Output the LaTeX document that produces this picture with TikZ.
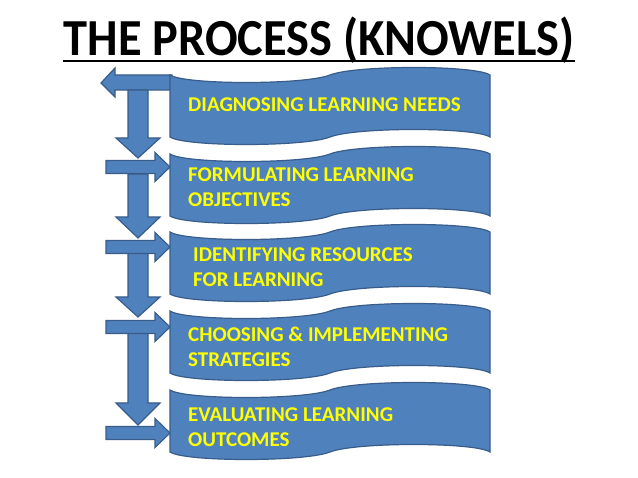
\documentclass[tikz,border=0pt]{standalone}
\usepackage{fontspec}
\setmainfont{Carlito}
\newfontfamily\headingfont[FakeStretch=0.93]{Carlito}
\definecolor{slideblue}{HTML}{4F81BD}
\definecolor{slideedge}{HTML}{385D8A}
\definecolor{slideyellow}{HTML}{FFFF00}

\begin{document}
\begin{tikzpicture}[
    x=1pt, y=-1pt,
    heading/.style={anchor=base, inner sep=0pt, font=\headingfont\fontsize{52}{60}\selectfont\bfseries},
    stage/.style={anchor=base west, inner sep=0pt, align=left, text=slideyellow, font=\fontsize{21}{25}\selectfont\bfseries},
    blockarrow/.style={fill=slideblue, draw=slideedge, line width=1.2pt, line join=miter},
    wave/.style={fill=slideblue, draw=slideedge, line width=1.2pt},
    wavebox/.pic={
        \draw[wave] (0,0) .. controls (15,10) and (135,10) .. (160,0)
            .. controls (185,-10) and (305,-10) .. (320,0) -- (320,62)
            .. controls (305,52) and (185,52) .. (160,62)
            .. controls (135,72) and (15,72) .. (0,62) -- cycle;
    }
]

\fill[white] (0,0) rectangle (638,478);
\useasboundingbox (0,0) rectangle (638,478);

% Title
\node[heading] (title) at (319,56) {THE PROCESS (KNOWELS)};
\draw[line width=2.6pt] ([yshift=-5pt]title.base west) -- ([yshift=-5pt]title.base east);

% Arrow back to the top
\draw[blockarrow] (172,75) -- (115,75) -- (115,68) -- (101,83) -- (115,97) -- (115,90) -- (172,90) -- cycle;

% Down arrows
\draw[blockarrow] (128,90) -- (148,90) -- (148,138) -- (160,138) -- (138,158) -- (116,138) -- (128,138) -- cycle;
\draw[blockarrow] (128,174) -- (148,174) -- (148,217) -- (160,217) -- (138,238) -- (116,217) -- (128,217) -- cycle;
\draw[blockarrow] (128,253) -- (148,253) -- (148,297) -- (160,297) -- (138,317) -- (116,297) -- (128,297) -- cycle;
\draw[blockarrow] (128,333) -- (148,333) -- (148,403) -- (160,403) -- (138,425) -- (116,403) -- (128,403) -- cycle;

% Arrows into the stages
\draw[blockarrow] (106,160.5) -- (155,160.5) -- (155,152.5) -- (170,167) -- (155,181.5) -- (155,173.5) -- (106,173.5) -- cycle;
\draw[blockarrow] (106,240.5) -- (155,240.5) -- (155,232.5) -- (170,247) -- (155,261.5) -- (155,253.5) -- (106,253.5) -- cycle;
\draw[blockarrow] (106,320.5) -- (155,320.5) -- (155,312.5) -- (170,327) -- (155,341.5) -- (155,333.5) -- (106,333.5) -- cycle;
\draw[blockarrow] (106,426.5) -- (155,426.5) -- (155,418.5) -- (170,433) -- (155,447.5) -- (155,439.5) -- (106,439.5) -- cycle;

% Stage banners
\pic at (170,75) {wavebox};
\pic at (170,154) {wavebox};
\pic at (170,232) {wavebox};
\pic at (170,311) {wavebox};
\pic at (170,390) {wavebox};

% Stage texts (base = last line)
\node[stage] (diagnose) at (188,112) {DIAGNOSING LEARNING NEEDS};
\node[stage] (formulate) at (188,207) {FORMULATING LEARNING\\OBJECTIVES};
\node[stage] (identify) at (193,287) {IDENTIFYING RESOURCES\\FOR LEARNING};
\node[stage] (choose) at (188,367) {CHOOSING \& IMPLEMENTING\\STRATEGIES};
\node[stage] (evaluate) at (188,447) {EVALUATING LEARNING\\OUTCOMES};

\end{tikzpicture}
\end{document}
